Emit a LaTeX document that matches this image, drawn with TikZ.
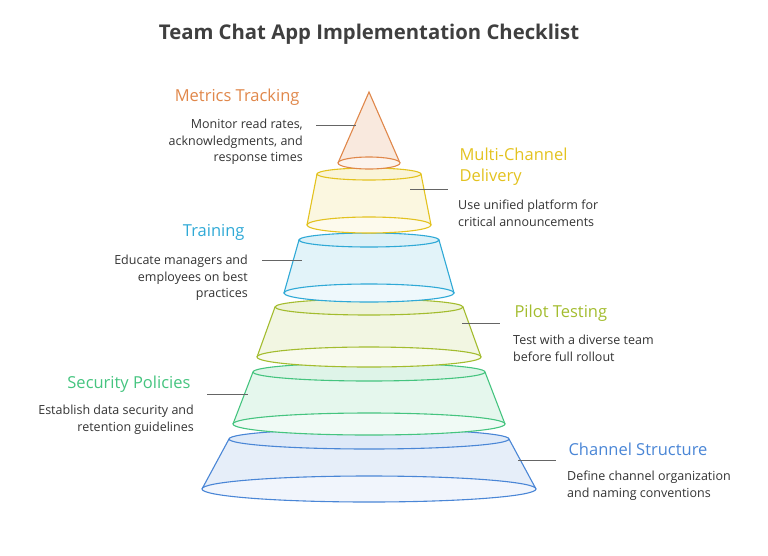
\documentclass[tikz,border=0pt]{standalone}
\usepackage{fontspec}
\setmainfont{Open Sans}
\definecolor{ttl}{HTML}{3F3F3F}
\definecolor{txt}{HTML}{333333}
\definecolor{corange}{HTML}{E0874A}
\definecolor{cyellow}{HTML}{E3C21F}
\definecolor{cblue}{HTML}{2FA9D6}
\definecolor{colive}{HTML}{A3BC2E}
\definecolor{cgreen}{HTML}{45C47F}
\definecolor{croyal}{HTML}{4A86D6}
\newcommand{\tier}[7]{%
  % #1 top y, #2 top half width, #3 bottom y, #4 bottom half width, #5 ry, #6 colour
  \fill[#6!14] (369-#2,#1) -- (369-#4,#3) arc[start angle=180,end angle=360,x radius=#4,y radius=#5] -- (369+#2,#1) -- cycle;
  \draw[#6,line width=1.1pt] (369-#2,#1) -- (369-#4,#3) (369+#2,#1) -- (369+#4,#3);
  \draw[#6,line width=1.1pt,fill=#6!8] (369,#3) ellipse[x radius=#4,y radius=#5];
  \draw[#6,line width=1.1pt,fill=#6!18] (369,#1) ellipse[x radius=#2,y radius=#7];
}
\tikzset{
  head/.style={font=\fontsize{16.5}{21}\selectfont},
  body/.style={font=\fontsize{12.5}{16.5}\selectfont,text=txt,align=#1,inner sep=0pt},
  lead/.style={draw=ttl!80,line width=0.8pt}
}
\begin{document}
\begin{tikzpicture}[x=1pt,y=-1pt]
\useasboundingbox (0,0) rectangle (768,555);
\node[font=\bfseries\fontsize{20.3}{23}\selectfont,text=ttl] (title) at (369,34) {Team Chat App Implementation Checklist};
% tiers, bottom first
\tier{439}{140}{489}{167}{13}{croyal}{10}
\tier{372}{116}{424}{136}{11}{cgreen}{9}
\tier{307}{94}{357}{112}{10}{colive}{8}
\tier{240}{70}{293}{85}{9}{cblue}{7}
\tier{174}{52}{225}{62}{8}{cyellow}{6}
\fill[corange!18] (369,92) -- (338,163) arc[start angle=180,end angle=360,x radius=31,y radius=6] -- cycle;
\draw[corange,line width=1.1pt] (338,163) -- (369,92) -- (400,163);
\draw[corange,line width=1.1pt,fill=corange!10] (369,163) ellipse[x radius=31,y radius=6];
% labels
\node[head,text=corange,anchor=east] (metrics) at (303,97) {Metrics Tracking};
\node[body=right,anchor=north east] (metricsTxt) at (303,119) {Monitor read rates,\\acknowledgments, and\\response times};
\node[head,text=cyellow,anchor=west,align=left] (multi) at (456,167) {Multi-Channel\\Delivery};
\node[body=left,anchor=north west] (multiTxt) at (458,200) {Use unified platform for\\critical announcements};
\node[head,text=cblue,anchor=east] (training) at (248,232) {Training};
\node[body=right,anchor=north east] (trainingTxt) at (248,255) {Educate managers and\\employees on best\\practices};
\node[head,text=colive,anchor=west] (pilot) at (511,313) {Pilot Testing};
\node[body=left,anchor=north west] (pilotTxt) at (513,335) {Test with a diverse team\\before full rollout};
\node[head,text=cgreen,anchor=east] (security) at (194,384) {Security Policies};
\node[body=right,anchor=north east] (securityTxt) at (194,405) {Establish data security and\\retention guidelines};
\node[head,text=croyal,anchor=west] (channel) at (565,449) {Channel Structure};
\node[body=left,anchor=north west] (channelTxt) at (567,471) {Define channel organization\\and naming conventions};
% leaders
\coordinate (m1) at (316,125); \coordinate (m2) at (356,125);
\coordinate (d1) at (410,189); \coordinate (d2) at (448,189);
\coordinate (t1) at (262,260); \coordinate (t2) at (302,260);
\coordinate (p1) at (462,323); \coordinate (p2) at (500,323);
\coordinate (s1) at (207,394); \coordinate (s2) at (248,394);
\coordinate (c1) at (518,460); \coordinate (c2) at (556,460);
\foreach \a/\b in {m1/m2,d1/d2,t1/t2,p1/p2,s1/s2,c1/c2} \draw[lead] (\a) -- (\b);
\end{tikzpicture}
\end{document}
